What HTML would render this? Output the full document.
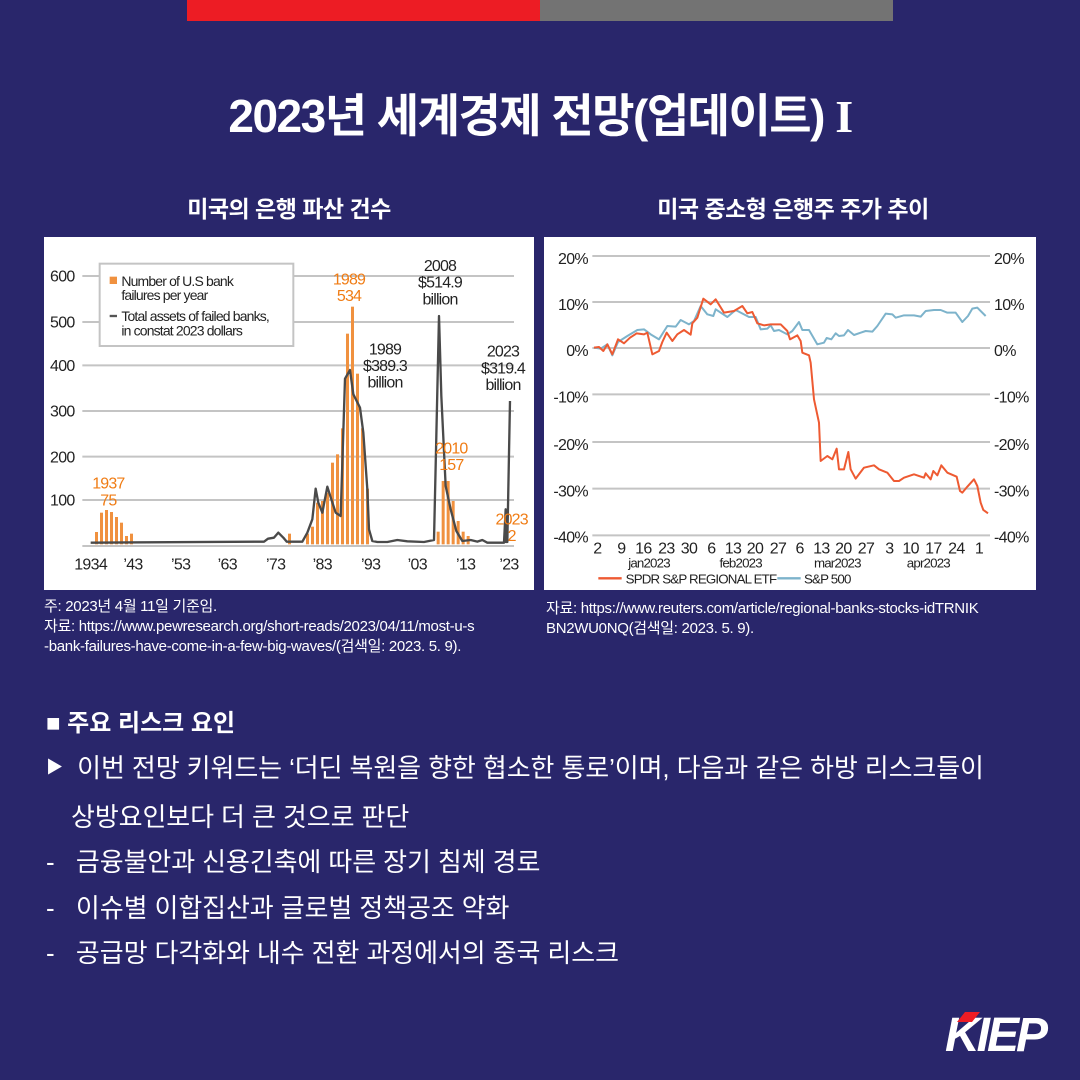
<!DOCTYPE html>
<html><head><meta charset="utf-8">
<style>
html,body{margin:0;padding:0;background:#29266b;}
body{width:1080px;height:1080px;overflow:hidden;position:relative;font-family:"Liberation Sans","Noto Sans CJK KR",sans-serif;color:#fff;}
.t{position:absolute;white-space:nowrap;}
</style></head><body>
<div style="position:absolute;left:187px;top:0;width:353px;height:21px;background:#ed1c24"></div>
<div style="position:absolute;left:540px;top:0;width:353px;height:21px;background:#737373"></div>
<div class="t" style="left:0;width:1080px;text-align:center;top:80px;font-size:46px;font-weight:bold;letter-spacing:-1.5px">2023년 세계경제 전망(업데이트) <span style="font-family:'Liberation Serif',serif">I</span></div>
<div class="t" style="left:44px;width:490px;text-align:center;top:190px;font-size:23px;font-weight:bold;letter-spacing:-0.5px">미국의 은행 파산 건수</div>
<div class="t" style="left:544px;width:498px;text-align:center;top:190px;font-size:23px;font-weight:bold;letter-spacing:-0.5px">미국 중소형 은행주 주가 추이</div>

<svg width="1080" height="1080" style="position:absolute;left:0;top:0" font-family="Liberation Sans, sans-serif">
<rect x="44" y="237" width="490" height="353" fill="#fff"/>
<rect x="544" y="237" width="492" height="353" fill="#fff"/>
<g transform="translate(44,236) scale(0.33333)">
 <g stroke="#c4c4c4" stroke-width="6">
  <line x1="115" y1="120" x2="1410" y2="120"/><line x1="115" y1="258" x2="1410" y2="258"/>
  <line x1="115" y1="388" x2="1410" y2="388"/><line x1="115" y1="525" x2="1410" y2="525"/>
  <line x1="115" y1="662" x2="1410" y2="662"/><line x1="115" y1="792" x2="1410" y2="792"/>
  <line x1="115" y1="930" x2="1410" y2="930"/>
 </g>
 <g font-size="48" fill="#222" letter-spacing="-2">
  <text x="18" y="137">600</text><text x="18" y="275">500</text><text x="18" y="405">400</text>
  <text x="18" y="542">300</text><text x="18" y="679">200</text><text x="18" y="809">100</text>
  <text x="140" y="1000" text-anchor="middle">1934</text><text x="267" y="1000" text-anchor="middle">’43</text>
  <text x="410" y="1000" text-anchor="middle">’53</text><text x="550" y="1000" text-anchor="middle">’63</text>
  <text x="695" y="1000" text-anchor="middle">’73</text><text x="835" y="1000" text-anchor="middle">’83</text>
  <text x="980" y="1000" text-anchor="middle">’93</text><text x="1120" y="1000" text-anchor="middle">’03</text>
  <text x="1265" y="1000" text-anchor="middle">’13</text><text x="1395" y="1000" text-anchor="middle">’23</text>
 </g>
 <rect x="167" y="83" width="581" height="247" fill="#fff" stroke="#c4c4c4" stroke-width="6"/>
 <rect x="197" y="122" width="22" height="22" fill="#f0913f"/>
 <line x1="197" y1="240" x2="219" y2="240" stroke="#555" stroke-width="7"/>
 <g font-size="42" fill="#222" letter-spacing="-2.5">
  <text x="232" y="150">Number of U.S bank</text><text x="232" y="192">failures per year</text>
  <text x="232" y="255">Total assets of failed banks,</text><text x="232" y="299">in constat 2023 dollars</text>
 </g>
 <g fill="#f0913f">
  <rect x="153" y="888" width="9" height="37"/><rect x="168" y="830" width="9" height="95"/>
  <rect x="183" y="822" width="9" height="103"/><rect x="198" y="828" width="9" height="97"/>
  <rect x="213" y="843" width="9" height="82"/><rect x="228" y="860" width="9" height="65"/>
  <rect x="243" y="900" width="9" height="25"/><rect x="258" y="893" width="9" height="32"/>
  <rect x="732" y="893" width="9" height="32"/>
  <rect x="786" y="893" width="9" height="32"/><rect x="801" y="872" width="9" height="53"/>
  <rect x="816" y="800" width="9" height="125"/><rect x="831" y="795" width="9" height="130"/>
  <rect x="846" y="770" width="9" height="155"/><rect x="861" y="680" width="9" height="245"/>
  <rect x="876" y="655" width="9" height="270"/><rect x="891" y="577" width="9" height="348"/>
  <rect x="906" y="293" width="9" height="632"/><rect x="921" y="212" width="9" height="713"/>
  <rect x="936" y="413" width="9" height="512"/><rect x="951" y="577" width="9" height="348"/>
  <rect x="966" y="758" width="9" height="167"/>
  <rect x="1178" y="887" width="9" height="38"/><rect x="1193" y="735" width="9" height="190"/>
  <rect x="1208" y="735" width="9" height="190"/><rect x="1223" y="795" width="9" height="130"/>
  <rect x="1238" y="855" width="9" height="70"/><rect x="1253" y="887" width="9" height="38"/>
  <rect x="1268" y="900" width="9" height="25"/>
 </g>
 <polyline fill="none" stroke="#4a4a4a" stroke-width="7" stroke-linejoin="round" points="140,920 660,917 672,908 690,905 703,890 718,905 728,917 775,917 790,890 805,850 815,758 823,800 835,830 850,752 862,790 875,830 890,840 903,428 918,402 928,475 948,515 958,590 970,760 975,880 985,915 1000,918 1030,918 1060,912 1090,916 1140,918 1170,912 1177,600 1185,240 1192,480 1205,750 1220,820 1237,885 1255,915 1280,912 1300,917 1315,912 1330,920 1380,920 1385,820 1385,918 1390,918 1398,495"/>
 <g font-size="48" text-anchor="middle" letter-spacing="-2.5">
  <g fill="#f07c14">
   <text x="193" y="757">1937</text><text x="193" y="808">75</text>
   <text x="915" y="145">1989</text><text x="915" y="195">534</text>
   <text x="1222" y="652">2010</text><text x="1222" y="702">157</text>
   <text x="1403" y="865">2023</text><text x="1403" y="915">2</text>
  </g>
  <g fill="#222">
   <text x="1023" y="355">1989</text><text x="1023" y="405">$389.3</text><text x="1023" y="455">billion</text>
   <text x="1188" y="105">2008</text><text x="1188" y="155">$514.9</text><text x="1188" y="205">billion</text>
   <text x="1377" y="362">2023</text><text x="1377" y="412">$319.4</text><text x="1377" y="462">billion</text>
  </g>
 </g>
</g>
<g transform="translate(544,236) scale(0.33333)">
 <g stroke="#c4c4c4" stroke-width="6">
  <line x1="145" y1="60" x2="1338" y2="60"/><line x1="145" y1="198" x2="1338" y2="198"/>
  <line x1="145" y1="336" x2="1338" y2="336"/><line x1="145" y1="475" x2="1338" y2="475"/>
  <line x1="145" y1="618" x2="1338" y2="618"/><line x1="145" y1="758" x2="1338" y2="758"/>
  <line x1="145" y1="898" x2="1338" y2="898"/>
 </g>
 <g font-size="48" fill="#222" letter-spacing="-2">
  <g text-anchor="end">
   <text x="132" y="84">20%</text><text x="132" y="222">10%</text><text x="132" y="360">0%</text>
   <text x="132" y="499">-10%</text><text x="132" y="642">-20%</text><text x="132" y="782">-30%</text><text x="132" y="920">-40%</text>
  </g>
  <text x="1350" y="84">20%</text><text x="1350" y="222">10%</text><text x="1350" y="360">0%</text>
  <text x="1350" y="499">-10%</text><text x="1350" y="642">-20%</text><text x="1350" y="782">-30%</text><text x="1350" y="920">-40%</text>
  <g text-anchor="middle">
   <text x="160" y="952">2</text><text x="232" y="952">9</text><text x="298" y="952">16</text><text x="367" y="952">23</text>
   <text x="435" y="952">30</text><text x="502" y="952">6</text><text x="567" y="952">13</text><text x="633" y="952">20</text>
   <text x="702" y="952">27</text><text x="767" y="952">6</text><text x="832" y="952">13</text><text x="898" y="952">20</text>
   <text x="966" y="952">27</text><text x="1036" y="952">3</text><text x="1100" y="952">10</text><text x="1168" y="952">17</text>
   <text x="1237" y="952">24</text><text x="1305" y="952">1</text>
  </g>
  <g font-size="40" letter-spacing="-2.5">
   <g text-anchor="middle">
   <text x="315" y="995">jan2023</text><text x="590" y="995">feb2023</text><text x="880" y="995">mar2023</text><text x="1153" y="995">apr2023</text>
   </g>
   <text x="245" y="1042">SPDR S&amp;P REGIONAL ETF</text><text x="780" y="1042">S&amp;P 500</text>
  </g>
 </g>
 <line x1="163" y1="1027" x2="233" y2="1027" stroke="#ee5a32" stroke-width="7"/>
 <line x1="700" y1="1027" x2="770" y2="1027" stroke="#7db3cb" stroke-width="7"/>
 <polyline fill="none" stroke="#7db3cb" stroke-width="6" stroke-linejoin="round" points="150,335 170,338 190,325 205,358 222,318 250,300 280,282 300,280 320,295 345,310 370,270 395,272 410,252 435,265 450,255 470,210 490,235 508,240 515,220 550,243 575,222 600,235 615,243 635,243 650,280 670,278 680,268 690,285 705,282 730,295 745,285 765,258 775,282 795,282 820,325 840,320 848,306 862,310 875,292 885,300 900,298 912,282 930,297 950,290 965,285 985,287 1000,270 1025,233 1045,235 1055,245 1080,238 1110,238 1130,242 1145,225 1170,222 1190,222 1210,230 1235,230 1255,258 1272,240 1285,218 1300,215 1325,240"/>
 <polyline fill="none" stroke="#ee5a32" stroke-width="6" stroke-linejoin="round" points="150,335 165,333 178,345 190,325 205,355 222,310 240,322 258,305 278,292 300,295 310,290 325,355 345,345 355,318 368,290 385,315 400,295 420,282 440,296 445,262 460,245 478,188 500,205 515,190 540,230 570,225 595,210 610,232 625,228 640,262 660,268 680,265 710,265 730,285 738,310 760,298 770,315 775,350 795,358 800,380 810,490 825,560 830,675 850,660 865,670 878,638 885,700 900,700 913,648 920,700 935,728 960,695 990,688 1005,700 1030,710 1050,735 1065,735 1080,725 1110,715 1140,725 1145,712 1160,730 1168,705 1180,718 1192,688 1210,710 1238,722 1248,765 1255,770 1270,752 1290,730 1300,750 1310,800 1318,822 1332,832"/>
</g>
<g>
 <text x="945" y="1051" font-size="48" font-weight="bold" fill="#fff" letter-spacing="-3" font-style="italic">KIEP</text>
 <polygon points="965,1012 980,1012 972,1022 957,1022" fill="#ed1c24"/>
</g>
</svg>

<div class="t" style="left:44px;top:597px;font-size:15px;line-height:20px;letter-spacing:-0.3px">주: 2023년 4월 11일 기준임.<br>자료: https://www.pewresearch.org/short-reads/2023/04/11/most-u-s<br>-bank-failures-have-come-in-a-few-big-waves/(검색일: 2023. 5. 9).</div>
<div class="t" style="left:546px;top:599px;font-size:15px;line-height:20px;letter-spacing:-0.3px">자료: https://www.reuters.com/article/regional-banks-stocks-idTRNIK<br>BN2WU0NQ(검색일: 2023. 5. 9).</div>

<div class="t" style="left:46px;top:703px;font-size:24px;font-weight:bold">■ 주요 리스크 요인</div>
<div class="t" style="left:46px;top:746px;font-size:26px;line-height:45.5px;letter-spacing:-0.1px">
<span style="font-size:17px;position:relative;top:-4px">▶</span>&nbsp; 이번 전망 키워드는 ‘더딘 복원을 향한 협소한 통로’이며, 다음과 같은 하방 리스크들이<br>
<span style="padding-left:25px">상방요인보다 더 큰 것으로 판단</span><br>
-&nbsp;&nbsp; 금융불안과 신용긴축에 따른 장기 침체 경로<br>
-&nbsp;&nbsp; 이슈별 이합집산과 글로벌 정책공조 약화<br>
-&nbsp;&nbsp; 공급망 다각화와 내수 전환 과정에서의 중국 리스크
</div>
</body></html>
